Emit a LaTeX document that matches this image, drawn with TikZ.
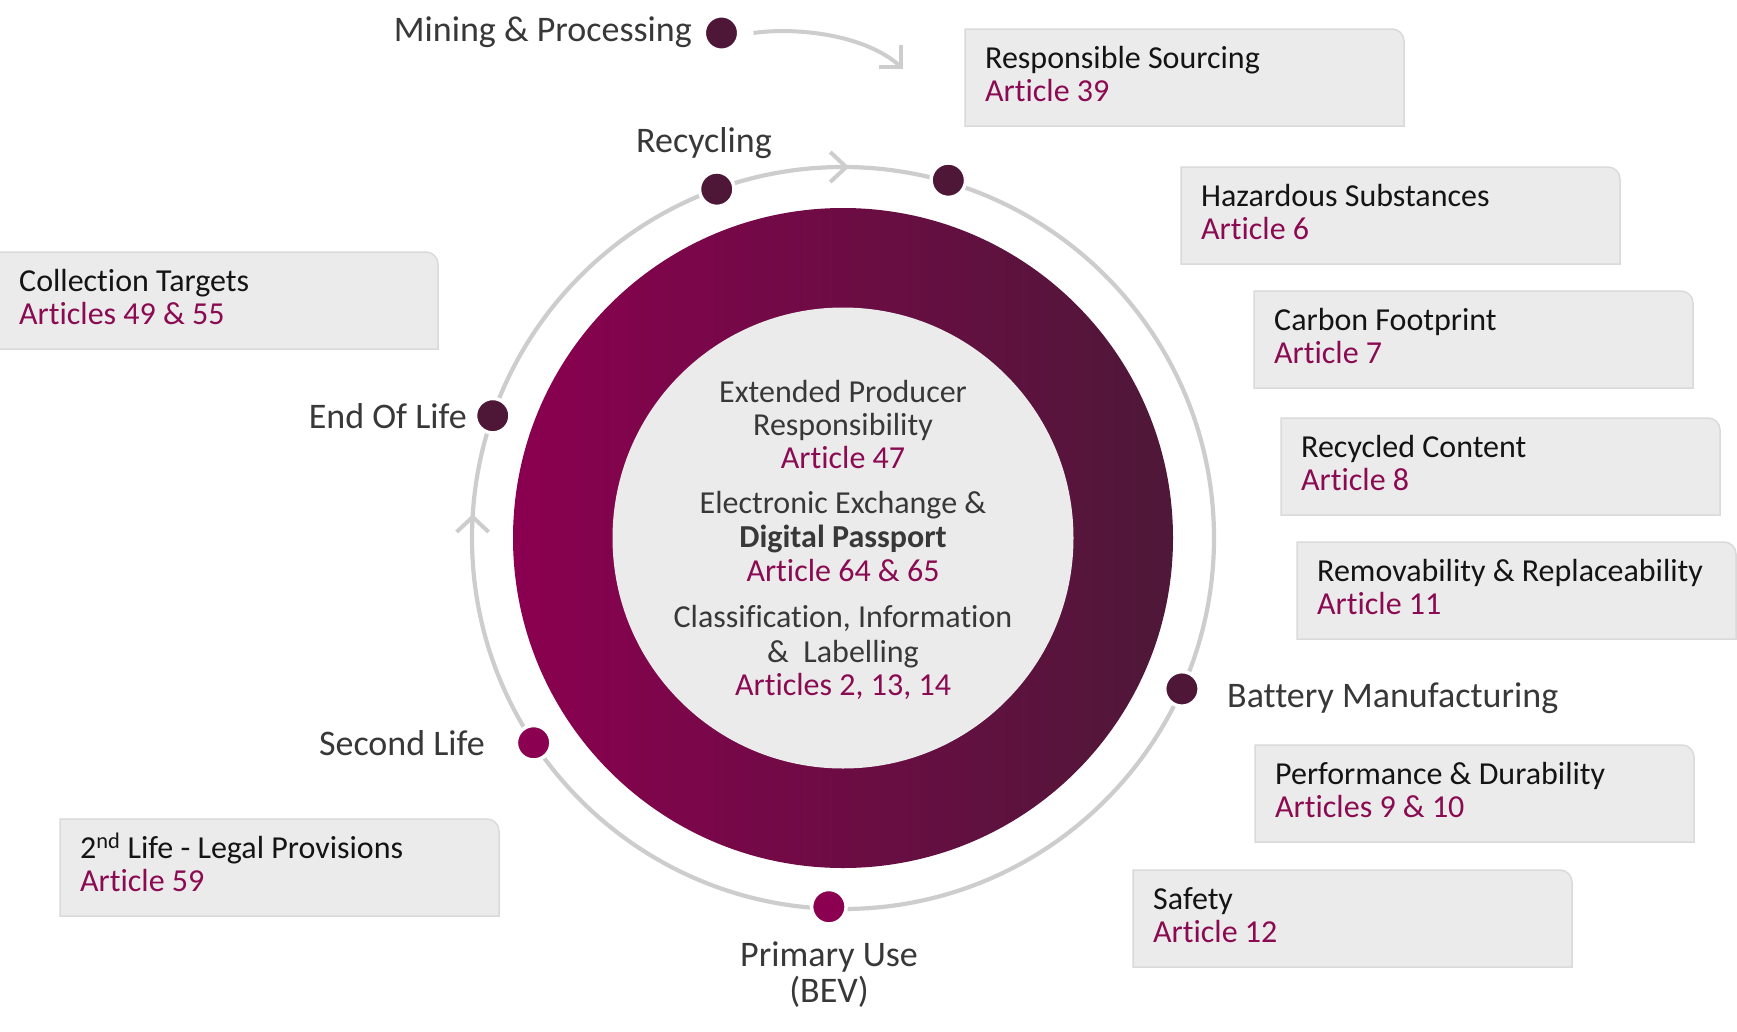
\documentclass[tikz,border=0pt]{standalone}
\usepackage{fontspec}
\setmainfont[Ligatures=NoCommon]{Carlito}
\usetikzlibrary{calc}
\definecolor{mag}{HTML}{8B0050}
\definecolor{midmag}{HTML}{7B0D4D}
\definecolor{darkring}{HTML}{4E1838}
\definecolor{magtext}{HTML}{8A0B52}
\definecolor{darkdot}{HTML}{4F1737}
\definecolor{ringgray}{HTML}{CDCDCD}
\definecolor{boxgray}{HTML}{EBEBEB}
\definecolor{boxedge}{HTML}{DADADA}
\definecolor{lblcol}{HTML}{383838}
\definecolor{ttlcol}{HTML}{141414}
\newcommand{\lblsize}{\fontsize{36}{40}\selectfont}
\newcommand{\ctrsize}{\fontsize{32}{34}\selectfont}
\newcommand{\boxsize}{\fontsize{32}{34}\selectfont}
\tikzset{
  ringline/.style={draw=ringgray, line width=4.2pt},
  chev/.style={draw=ringgray, line width=4pt, line cap=butt, line join=miter},
  stagedot/.style={circle, inner sep=0pt, minimum size=34.5pt, draw=white, line width=3.5pt},
  lbl/.style={inner sep=0pt, text=lblcol, font=\lblsize},
  ctext/.style={inner sep=0pt, text=lblcol, font=\ctrsize},
  cart/.style={inner sep=0pt, text=magtext, font=\ctrsize},
  boxnode/.style={rectangle, inner sep=0pt, outer sep=0pt, minimum width=439pt, minimum height=97pt},
  boxshape/.style={fill=boxgray, draw=boxedge, line width=1.5pt},
  boxtitle/.style={inner sep=0pt, text=ttlcol, font=\boxsize},
  boxart/.style={inner sep=0pt, text=magtext, font=\boxsize}
}
\newcommand{\infobox}[5]{%
  \node[boxnode, anchor=north west] (#1) at (#2,#3) {};
  \path[boxshape] (#1.south west) -- (#1.north west) -- ([xshift=-12pt]#1.north east)
    arc[start angle=-90, end angle=0, radius=12] -- (#1.south east) -- cycle;
  \node[boxtitle, anchor=base west] (#1-t) at ([xshift=20pt, yshift=-39pt]#1.north west) {#4};
  \node[boxart, anchor=base west] (#1-a) at ([xshift=20pt, yshift=-72pt]#1.north west) {#5};
}
\begin{document}
\begin{tikzpicture}[x=1pt,y=-1pt]
\useasboundingbox (0,0) rectangle (1737,1031);
\fill[white] (0,0) rectangle (1737,1031);
\coordinate (C) at (843,538);
% lifecycle ring
\draw[ringline] (C) circle[radius=371];
% gradient disc
\shade[left color=mag, middle color=midmag, right color=darkring] (C) circle[radius=330];
\fill[boxgray] (C) circle[radius=230.5];
% ring arrows
\coordinate (aTop) at ([shift={(-89.5:371)}]C);
\draw[chev] ([shift={(-16,-15)}]aTop) -- (aTop) -- ([shift={(-16,15)}]aTop);
\coordinate (aLeft) at ([shift={(-176.75:371)}]C);
\draw[chev] ([shift={(-16,15)}]aLeft) -- (aLeft) -- ([shift={(16,15)}]aLeft);
% stage dots
\node[stagedot, fill=darkdot] (dRec) at ([shift={(-109.9:371)}]C) {};
\node[stagedot, fill=darkdot] (dTop) at ([shift={(-73.6:373)}]C) {};
\node[stagedot, fill=darkdot] (dEol) at ([shift={(-160.75:371)}]C) {};
\node[stagedot, fill=mag] (dSec) at ([shift={(146.5:371)}]C) {};
\node[stagedot, fill=mag] (dPri) at ([shift={(92.2:369)}]C) {};
\node[stagedot, fill=darkdot] (dBat) at ([shift={(24.0:371)}]C) {};
\node[stagedot, fill=darkdot] (dMin) at (721.5,33) {};
% mining arrow
\coordinate (mStart) at ([xshift=13pt]dMin.east);
\coordinate (mEnd) at (901,67);
\draw[chev] (mStart) .. controls (795,27) and (866,34) .. (mEnd);
\draw[chev] ([shift={(0,-22)}]mEnd) -- (mEnd) -- ([shift={(-22,0)}]mEnd);
% stage labels
\node[lbl, anchor=base east] (tMin) at (692,41) {Mining \& Processing};
\node[lbl, anchor=base west] (tRec) at (636,152) {Recycling};
\node[lbl, anchor=base east] (tEol) at (467,428) {End Of Life};
\node[lbl, anchor=base east] (tSec) at (485,755) {Second Life};
\node[lbl, anchor=base west] (tBat) at (1227,707) {Battery Manufacturing};
\node[lbl, anchor=base] (tPri) at (829,966) {Primary Use};
\node[lbl, anchor=base] (tBev) at (829,1002) {(BEV)};
% centre text
\node[ctext, anchor=base] (c1) at (843,402) {Extended Producer};
\node[ctext, anchor=base] (c2) at (843,435) {Responsibility};
\node[cart, anchor=base] (c3) at (843,468) {Article 47};
\node[ctext, anchor=base] (c4) at (843,513) {Electronic Exchange \&};
\node[ctext, anchor=base] (c5) at (843,547) {\textbf{Digital Passport}};
\node[cart, anchor=base] (c6) at (843,581) {Article 64 \& 65};
\node[ctext, anchor=base] (c7) at (843,627) {Classification, Information};
\node[ctext, anchor=base] (c8) at (843,662) {\& \ Labelling};
\node[cart, anchor=base] (c9) at (843,695) {Articles 2, 13, 14};
% regulation boxes
\infobox{b1}{965}{29}{Responsible Sourcing}{Article 39}
\infobox{b2}{1181}{167}{Hazardous Substances}{Article 6}
\infobox{b3}{1254}{291}{Carbon Footprint}{Article 7}
\infobox{b4}{1281}{418}{Recycled Content}{Article 8}
\infobox{b5}{1297}{542}{Removability \& Replaceability}{Article 11}
\infobox{b6}{1255}{745}{Performance \& Durability}{Articles 9 \& 10}
\infobox{b7}{1133}{870}{Safety}{Article 12}
\infobox{b8}{-1}{252}{Collection Targets}{Articles 49 \& 55}
\infobox{b9}{60}{819}{2\textsuperscript{nd} Life - Legal Provisions}{Article 59}
\end{tikzpicture}
\end{document}
